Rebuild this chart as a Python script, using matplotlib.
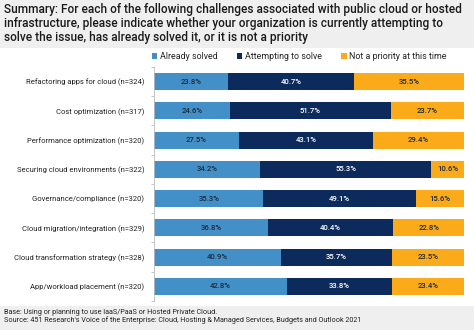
import matplotlib.pyplot as plt
from matplotlib.patches import Rectangle

categories = [
    "Refactoring apps for cloud (n=324)",
    "Cost optimization (n=317)",
    "Performance optimization (n=320)",
    "Securing cloud environments (n=322)",
    "Governance/compliance (n=320)",
    "Cloud migration/integration (n=329)",
    "Cloud transformation strategy (n=328)",
    "App/workload placement (n=320)",
]
already_solved = [23.8, 24.6, 27.5, 34.2, 35.3, 36.8, 40.9, 42.8]
attempting = [40.7, 51.7, 43.1, 55.3, 49.1, 40.4, 35.7, 33.8]
not_priority = [35.5, 23.7, 29.4, 10.6, 15.6, 22.8, 23.5, 23.4]
series_names = ["Already solved", "Attempting to solve", "Not a priority at this time"]
colors = ["#4390c8", "#0c2b5c", "#fbab1a"]
text_colors = ["#1c2a3a", "white", "#1c2a3a"]

title = ("Summary: For each of the following challenges associated with public cloud or hosted\n"
         "infrastructure, please indicate whether your organization is currently attempting to\n"
         "solve the issue, has already solved it, or it is not a priority")
footer = ("Base: Using or planning to use IaaS/PaaS or Hosted Private Cloud.\n"
          "Source: 451 Research's Voice of the Enterprise: Cloud, Hosting & Managed Services, Budgets and Outlook 2021")

plt.rcParams['font.family'] = ['Roboto', 'DejaVu Sans']

fig = plt.figure(figsize=(4.74, 3.30), dpi=100)

# bandes grises titre / pied
fig.patches.append(Rectangle((0, 0.855), 1, 0.145, transform=fig.transFigure,
                             facecolor="#efefef", edgecolor="none", zorder=0))
fig.patches.append(Rectangle((0, 0), 1, 0.073, transform=fig.transFigure,
                             facecolor="#efefef", edgecolor="none", zorder=0))

fig.text(0.008, 0.992, title, ha="left", va="top", fontsize=8.6, fontweight="medium",
         color="#1a1a1a", linespacing=1.12)
fig.text(0.008, 0.064, footer, ha="left", va="top", fontsize=5.25, color="#222222",
         linespacing=1.12)

ax = fig.add_axes([0.325, 0.088, 0.654, 0.709])
ax.set_facecolor("none")

y = list(range(len(categories)))
left = [0] * len(categories)
for vals, name, col, tcol in zip([already_solved, attempting, not_priority], series_names,
                                 colors, text_colors):
    bars = ax.barh(y, vals, left=left, height=0.58, color=col, label=name)
    for b, v in zip(bars, vals):
        ax.text(b.get_x() + b.get_width() / 2, b.get_y() + b.get_height() / 2,
                f"{v}%", ha="center", va="center", fontsize=5.6, color=tcol,
                fontweight="medium")
    left = [l + v for l, v in zip(left, vals)]

ax.set_xlim(0, 100)
ax.set_ylim(len(categories) - 0.5, -0.5)
ax.set_yticks(y)
ax.set_yticklabels(categories, fontsize=5.5, color="#222222")
ax.tick_params(axis="y", length=0, pad=7)
ax.set_yticks([i - 0.5 for i in range(len(categories) + 1)], minor=True)
ax.tick_params(axis="y", which="minor", length=2.5, color="#bbbbbb", width=0.6)
ax.set_xticks([])
for s in ["top", "right", "bottom"]:
    ax.spines[s].set_visible(False)
ax.spines["left"].set_color("#bbbbbb")
ax.spines["left"].set_linewidth(0.6)

ax.legend(loc="center", bbox_to_anchor=(0.468, 1.045), ncol=3, frameon=False, fontsize=6.4,
          handlelength=0.6, handleheight=0.6, handletextpad=0.3, columnspacing=2.2,
          labelcolor="#222222")

fig.savefig("out.png", dpi=100)
